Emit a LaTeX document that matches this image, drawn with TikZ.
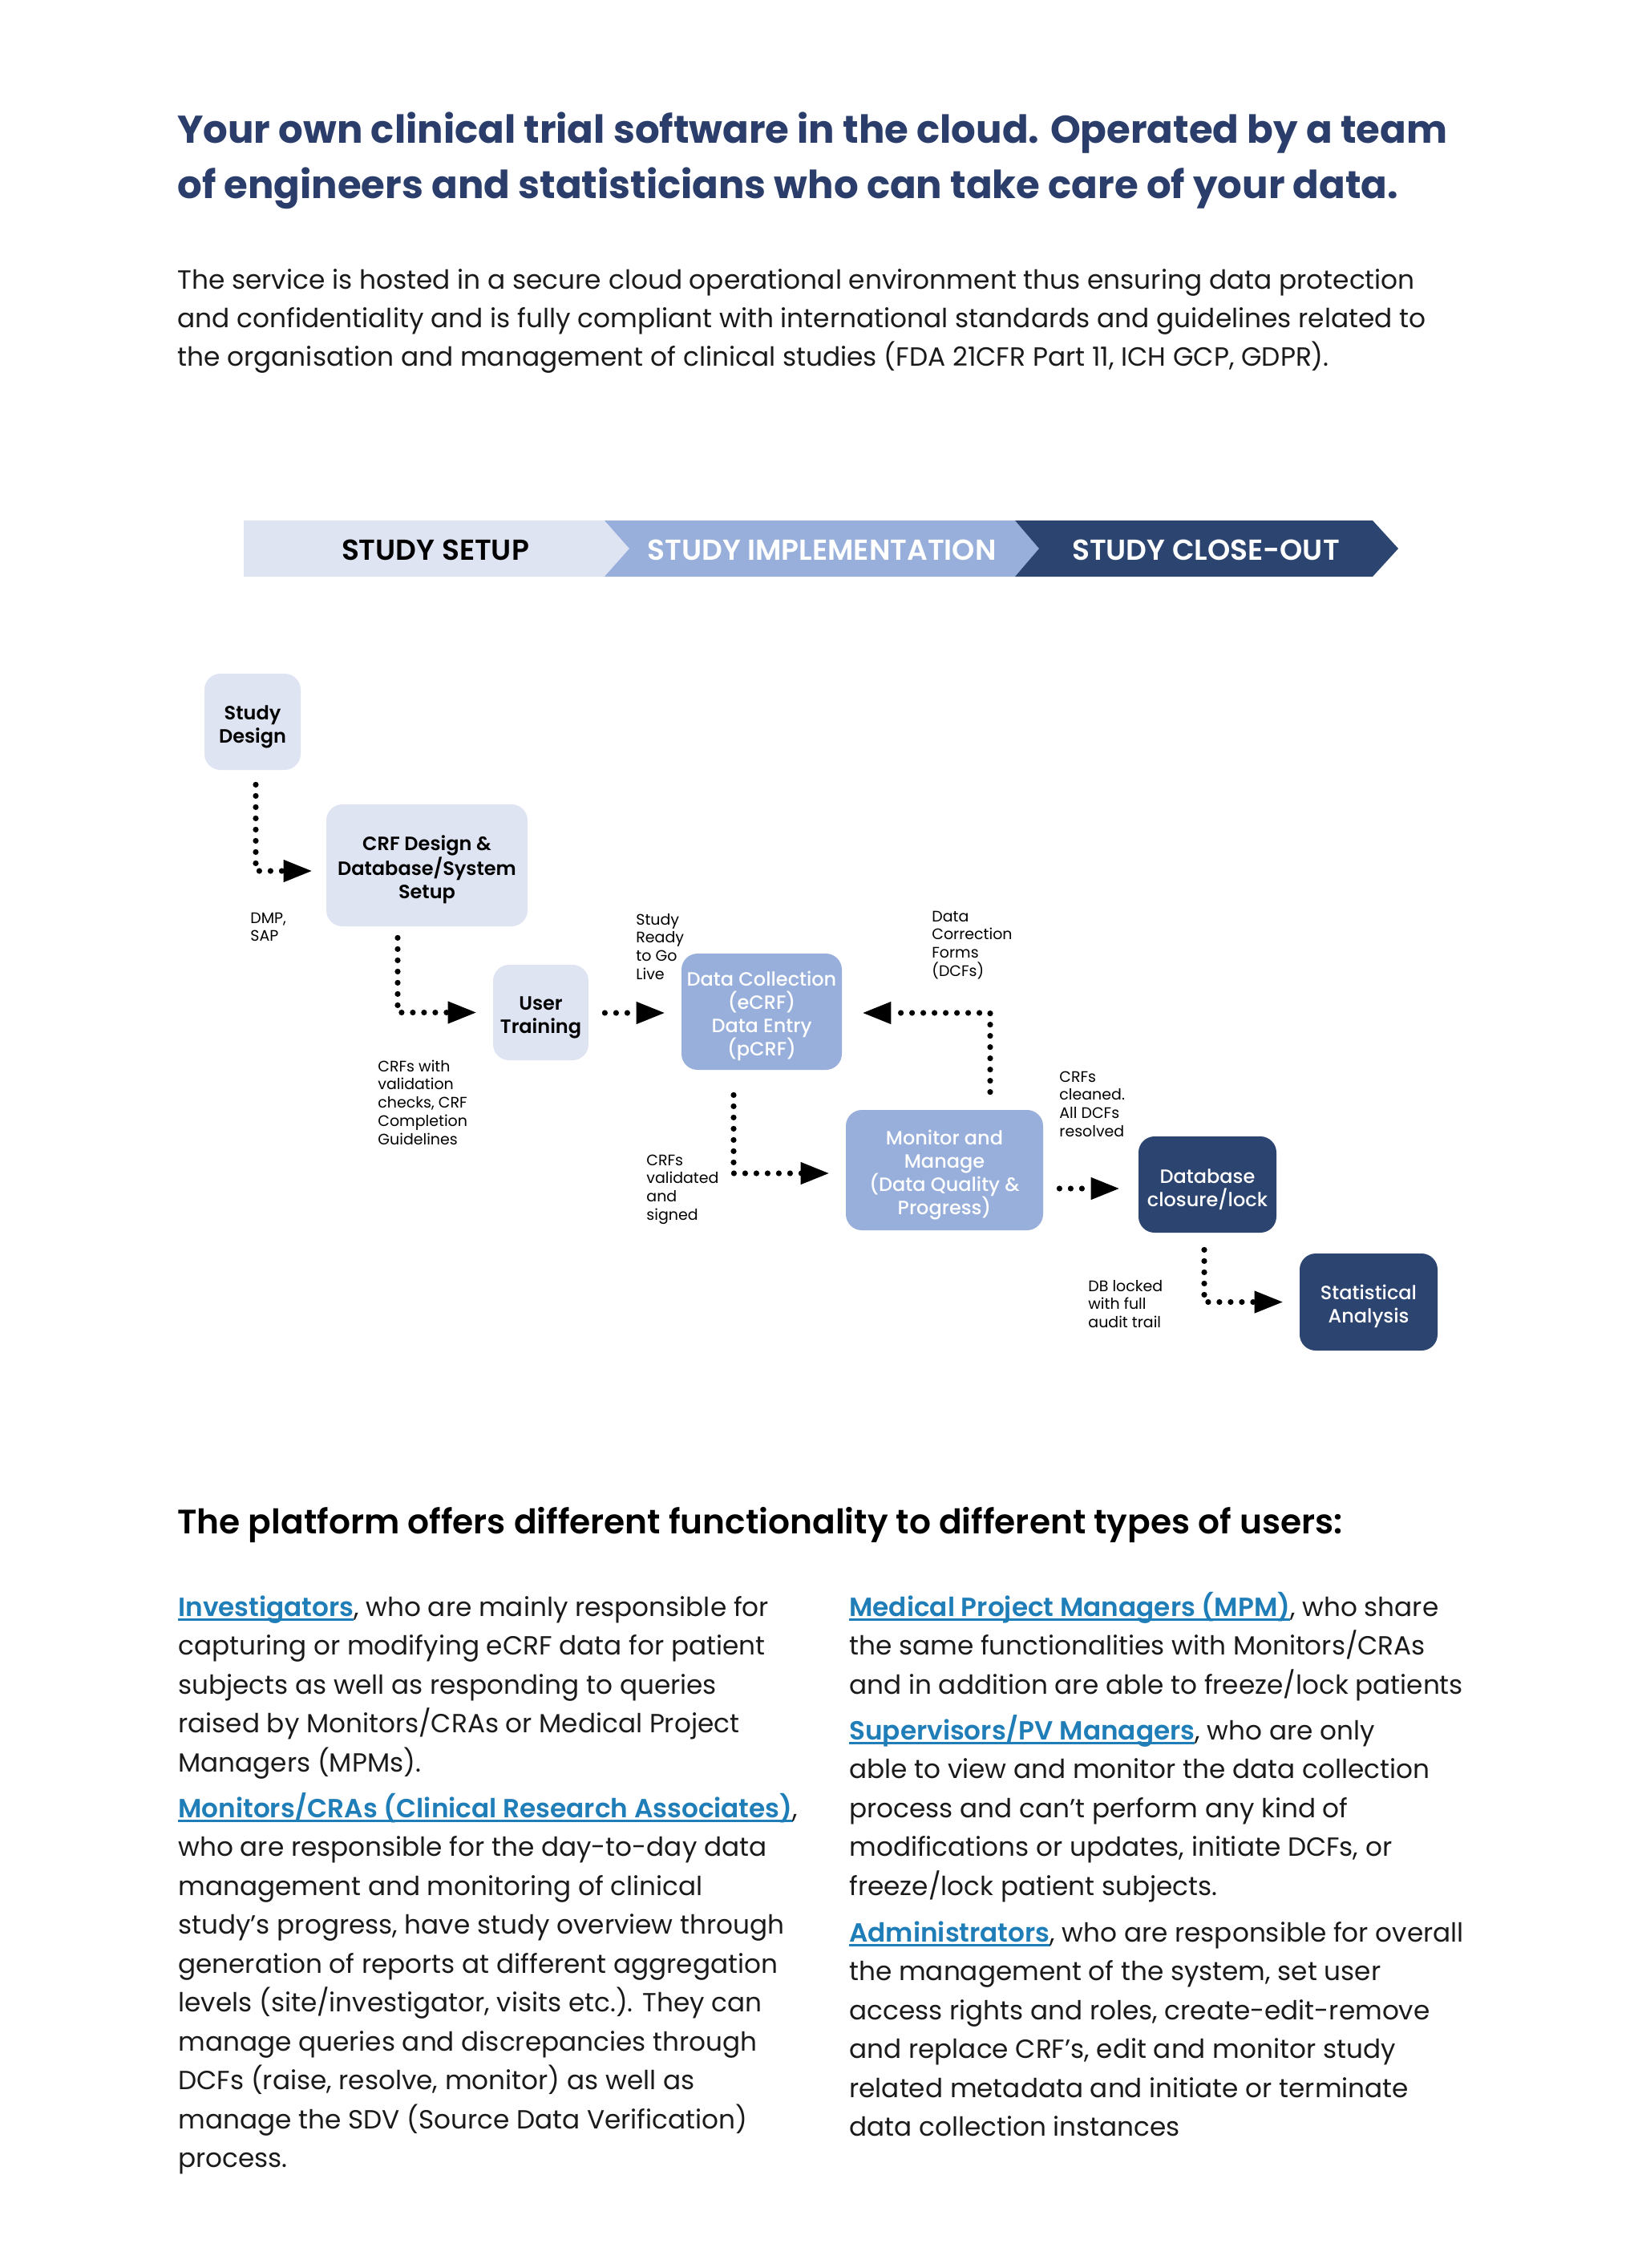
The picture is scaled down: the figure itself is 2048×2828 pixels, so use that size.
\documentclass[tikz,border=0pt]{standalone}
\usepackage{fontspec}
\setmainfont{Poppins}
\newfontfamily\psemi{Poppins SemiBold}
\newfontfamily\pmed{Poppins Medium}
\usetikzlibrary{arrows.meta,calc}
\definecolor{navy}{HTML}{2B3E6B}
\definecolor{lightbox}{HTML}{DFE4F3}
\definecolor{midbox}{HTML}{97AFDA}
\definecolor{darkbox}{HTML}{2C4470}
\definecolor{linkblue}{HTML}{1F7DB8}
\definecolor{bodytext}{HTML}{1A1A1A}
\newsavebox{\lnkbox}
\newcommand{\lnk}[1]{\leavevmode{\color{linkblue}\psemi\sbox{\lnkbox}{#1}\rlap{\rule[-2.8pt]{\wd\lnkbox}{1.1pt}}\usebox{\lnkbox}}}
\newcommand{\parblock}[1]{\parbox[t]{900pt}{\raggedright #1}}
\newcommand{\lblblock}[1]{\parbox[t]{80pt}{\raggedright #1}}
\newcommand{\bxs}{\rule{0pt}{14.8pt}}
\begin{document}
\begin{tikzpicture}[x=0.5pt,y=-0.5pt,
  box/.style={rounded corners=10pt, align=center, inner sep=0pt,
    font=\fontsize{12}{14.5}\selectfont\psemi},
  lightb/.style={box, fill=lightbox, text=black},
  midb/.style={box, fill=midbox, text=white, font=\fontsize{12}{14.5}\selectfont\pmed},
  darkb/.style={box, fill=darkbox, text=white, font=\fontsize{12}{14.5}\selectfont\pmed},
  flow/.style={line width=3.6pt, dash pattern=on 0pt off 7pt, line cap=round,
    -{Triangle[length=18pt,width=13pt]}},
  lbl/.style={anchor=base west, inner sep=0pt, font=\fontsize{9.5}{11.4}\selectfont, text=black},
  bodytxt/.style={anchor=base west, inner sep=0pt, font=\fontsize{16.35}{24.25}\selectfont, text=bodytext},
  phase/.style={inner sep=0pt, font=\fontsize{18}{20}\selectfont\psemi},
]
\useasboundingbox (0,0) rectangle (2048,2828);
\fill[white] (0,0) rectangle (2048,2828);

% Title
\node[anchor=base west, inner sep=0pt, text=navy, font=\fontsize{24.1}{28}\selectfont\bfseries] (t1) at (221,178)
  {Your own clinical trial software in the cloud. Operated by a team};
\node[anchor=base west, inner sep=0pt, text=navy, font=\fontsize{24.1}{28}\selectfont\bfseries] (t2) at (221,247)
  {of engineers and statisticians who can take care of your data.};

% Intro
\node[bodytxt, font=\fontsize{16.4}{24}\selectfont] (intro) at (221,360) {\parblock{The service is hosted in a secure cloud operational environment thus ensuring data protection\\
and confidentiality and is fully compliant with international standards and guidelines related to\\
the organisation and management of clinical studies (FDA 21CFR Part 11, ICH GCP, GDPR).}};

% Phase band
\fill[lightbox] (304,649) -- (754,649) -- (785,684) -- (754,719) -- (304,719) -- cycle;
\fill[midbox] (754,649) -- (1266,649) -- (1296,684) -- (1266,719) -- (754,719) -- (785,684) -- cycle;
\fill[darkbox] (1266,649) -- (1712,649) -- (1744,684) -- (1712,719) -- (1266,719) -- (1296,684) -- cycle;
\node[phase, text=black] (p1) at (543,686) {STUDY SETUP};
\node[phase, text=white] (p2) at (1025,686) {STUDY IMPLEMENTATION};
\node[phase, text=white] (p3) at (1504,686) {STUDY CLOSE-OUT};

% Boxes
\node[lightb, minimum width=60pt, minimum height=60pt] (sd) at (315,900) {\bxs Study\\Design};
\node[lightb, minimum width=125.5pt, minimum height=76pt] (crf) at (532.5,1079) {\bxs CRF Design \&\\Database/System\\Setup};
\node[lightb, minimum width=59.5pt, minimum height=59.5pt] (ut) at (674.5,1262.5) {\bxs User\\Training};
\node[midb, minimum width=100pt, minimum height=72.5pt] (dc) at (950,1261.5) {\bxs Data Collection\\(eCRF)\\Data Entry\\(pCRF)};
\node[midb, minimum width=123pt, minimum height=75pt] (mm) at (1178,1459) {\bxs Monitor and\\Manage\\(Data Quality \&\\Progress)};
\node[darkb, minimum width=86pt, minimum height=60pt] (db) at (1506,1477) {\bxs Database\\closure/lock};
\node[darkb, minimum width=86pt, minimum height=60.5pt] (sa) at (1707,1623.5) {\bxs Statistical\\Analysis};

% Connectors
\draw[flow] ($(sd.south)+(4,18)$) |- ($(crf.west)+(-17,7)$);
\draw[flow] ($(crf.south)+(-36.5,14)$) |- ($(ut.west)+(-20,0)$);
\draw[flow] ($(ut.east)+(20,0.5)$) -- ($(dc.west)+(-20,1.5)$);
\draw[flow] ($(mm.north)+(57,-22)$) |- ($(dc.east)+(25,1.5)$);
\draw[flow] ($(dc.south)+(-35,31)$) |- ($(mm.west)+(-20,4)$);
\draw[flow] ($(mm.east)+(20,23)$) -- ($(db.west)+(-23,5)$);
\draw[flow] ($(db.south)+(-4,21)$) |- ($(sa.west)+(-20,0)$);

% Connector labels
\node[lbl] (l1) at (312,1151) {\lblblock{DMP,\\SAP}};
\node[lbl] (l2) at (471,1336) {\lblblock{CRFs with\\validation\\checks, CRF\\Completion\\Guidelines}};
\node[lbl] (l3) at (793,1153) {\lblblock{Study\\Ready\\to Go\\Live}};
\node[lbl] (l4) at (1162,1149) {\lblblock{Data\\Correction\\Forms\\(DCFs)}};
\node[lbl] (l5) at (806,1453) {\lblblock{CRFs\\validated\\and\\signed}};
\node[lbl] (l6) at (1321,1349) {\lblblock{CRFs\\cleaned.\\All DCFs\\resolved}};
\node[lbl] (l7) at (1357,1610) {\lblblock{DB locked\\with full\\audit trail}};

% Users heading
\node[anchor=base west, inner sep=0pt, text=black, font=\fontsize{21.15}{24}\selectfont\psemi] (h2) at (221,1912)
  {The platform offers different functionality to different types of users:};

% Left column
\node[bodytxt] (c1a) at (222,2015) {\parblock{\lnk{Investigators}, who are mainly responsible for\\
capturing or modifying eCRF data for patient\\
subjects as well as responding to queries\\
raised by Monitors/CRAs or Medical Project\\
Managers (MPMs).}};
\node[bodytxt] (c1b) at (222,2266) {\parblock{\lnk{Monitors/CRAs (Clinical Research Associates)},\\
who are responsible for the day-to-day data\\
management and monitoring of clinical\\
study’s progress, have study overview through\\
generation of reports at different aggregation\\
levels (site/investigator, visits etc.). They can\\
manage queries and discrepancies through\\
DCFs (raise, resolve, monitor) as well as\\
manage the SDV (Source Data Verification)\\
process.}};

% Right column
\node[bodytxt] (c2a) at (1059,2015) {\parblock{\lnk{Medical Project Managers (MPM)}, who share\\
the same functionalities with Monitors/CRAs\\
and in addition are able to freeze/lock patients}};
\node[bodytxt] (c2b) at (1059,2169) {\parblock{\lnk{Supervisors/PV Managers}, who are only\\
able to view and monitor the data collection\\
process and can’t perform any kind of\\
modifications or updates, initiate DCFs, or\\
freeze/lock patient subjects.}};
\node[bodytxt] (c2c) at (1059,2421) {\parblock{\lnk{Administrators}, who are responsible for overall\\
the management of the system, set user\\
access rights and roles, create-edit-remove\\
and replace CRF’s, edit and monitor study\\
related metadata and initiate or terminate\\
data collection instances}};
\end{tikzpicture}
\end{document}
